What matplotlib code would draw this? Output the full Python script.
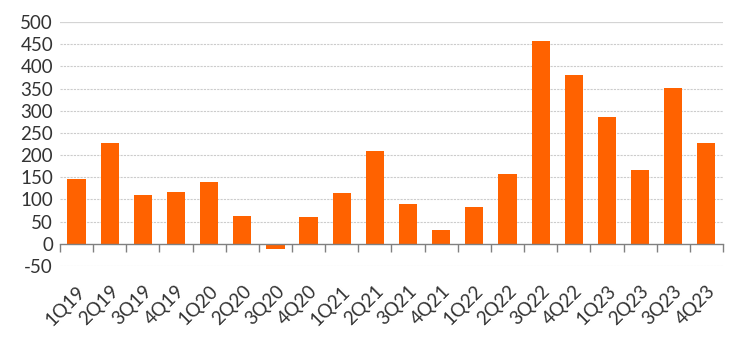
import numpy as np
import matplotlib
matplotlib.use('Agg')
import matplotlib.pyplot as plt

quarters = ['1Q19', '2Q19', '3Q19', '4Q19', '1Q20', '2Q20', '3Q20', '4Q20',
            '1Q21', '2Q21', '3Q21', '4Q21', '1Q22', '2Q22', '3Q22', '4Q22',
            '1Q23', '2Q23', '3Q23', '4Q23']
values = [145, 227, 111, 116, 139, 62, -12, 60,
          114, 209, 89, 32, 82, 157, 458, 381,
          286, 166, 351, 227]
y_ticks = [-50, 0, 50, 100, 150, 200, 250, 300, 350, 400, 450, 500]

plt.rcParams['font.family'] = ['Lato', 'DejaVu Sans']
plt.rcParams['axes.unicode_minus'] = False

fig = plt.figure(figsize=(7.46, 3.37), dpi=100)
ax = fig.add_axes([0.0804, 0.2107, 0.8887, 0.724])

x = np.arange(len(quarters))
ax.bar(x, values, width=0.55, color='#FF6200', zorder=3)

ax.set_xlim(-0.5, len(quarters) - 0.5)
ax.set_ylim(-50, 500)
ax.set_yticks(y_ticks)
for v in y_ticks:
    if v == 500:
        ax.axhline(v, color='#d4d4d4', lw=0.9, zorder=1)
    elif v != 0:
        ax.axhline(v, color='#cccccc', lw=0.8, ls=(0, (2, 1)), zorder=1)

for s in ['top', 'right', 'left']:
    ax.spines[s].set_visible(False)
ax.spines['bottom'].set_position(('data', 0))
ax.spines['bottom'].set_color('#808080')
ax.spines['bottom'].set_linewidth(1.0)
ax.spines['bottom'].set_zorder(4)

# boundaries get the ticks, centers get the labels
ax.set_xticks(np.arange(len(quarters) + 1) - 0.5)
ax.set_xticklabels([])
ax.tick_params(axis='x', which='major', length=6, color='#808080', width=1, direction='out')
ax.set_xticks(x, minor=True)
ax.set_xticklabels(quarters, minor=True, rotation=45, ha='right',
                   rotation_mode='anchor', fontsize=13.5, color='#333333')
ax.tick_params(axis='x', which='minor', length=0, pad=28)

ax.tick_params(axis='y', length=0, labelsize=13.5, labelcolor='#333333', pad=5)

fig.savefig('out.png', dpi=100)
